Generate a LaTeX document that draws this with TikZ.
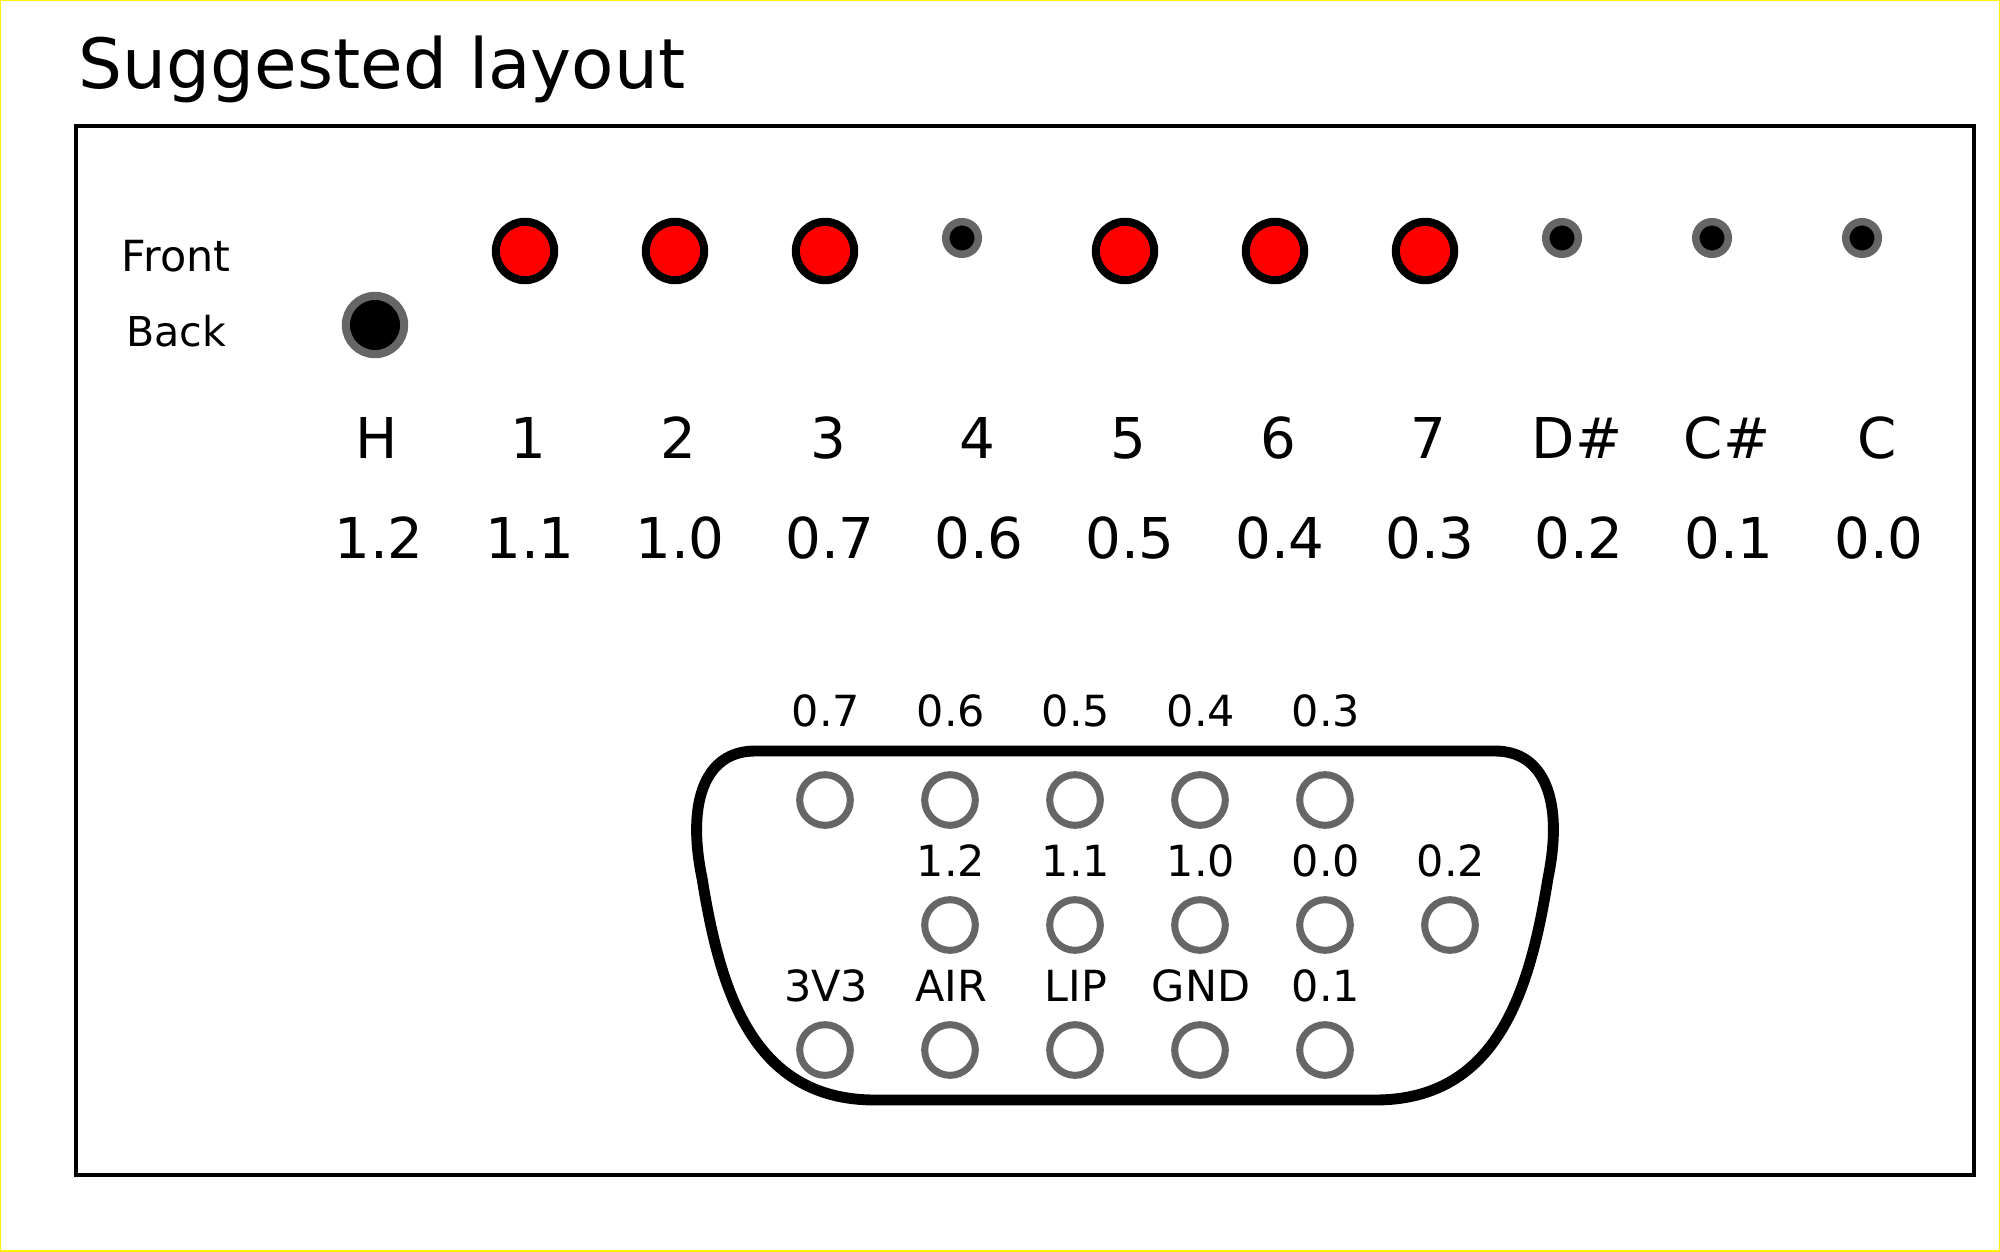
\documentclass[tikz,border=0pt]{standalone}
\usepackage{fontspec}
\setmainfont{DejaVu Sans}
\tikzset{
  ledfront/.style={circle, draw=black, fill=red, line width=2.3pt, minimum size=16.6pt, inner sep=0pt},
  ledback/.style={circle, draw=pingrey, fill=black, line width=2.3pt, minimum size=16.6pt, inner sep=0pt},
  ledsmall/.style={circle, draw=pingrey, fill=black, line width=2.15pt, minimum size=9.25pt, inner sep=0pt},
  pinhole/.style={circle, draw=pingrey, fill=white, line width=2pt, minimum size=14.4pt, inner sep=0pt},
  pinlabel/.style={font=\fontsize{12.2pt}{14pt}\selectfont, anchor=base, inner sep=0pt},
  ledname/.style={font=\fontsize{16pt}{18pt}\selectfont, anchor=base, inner sep=0pt},
}
\definecolor{pingrey}{HTML}{666666}
\begin{document}
\begin{tikzpicture}[x=0.01cm, y=-0.01cm]
    \useasboundingbox (0,0) rectangle (2000,1251);
    \draw[yellow, line width=0.6pt] (0,0) rectangle (2000,1251);
    \node[anchor=base west, inner sep=0pt, font=\fontsize{19.7pt}{24pt}\selectfont] (title) at (78,88) {Suggested layout};
    \draw[black, line width=1pt] (76,126) rectangle (1974,1175);
    \node[pinlabel] (front) at (176,271) {Front};
    \node[pinlabel, font=\fontsize{11.7pt}{14pt}\selectfont] (back) at (176,346) {Back};
    % leds
    \node[ledback] (ledH) at (375,325) {};
    \foreach \x/\n in {525/1, 675/2, 825/3, 1125/5, 1275/6, 1425/7}
        \node[ledfront] (led\n) at (\x,251) {};
    \foreach \x/\n in {962/4, 1562/Ds, 1712/Cs, 1862/C}
        \node[ledsmall] (led\n) at (\x,238) {};
    % names and bits
    \foreach \x/\n/\b in {377/H/1.2, 528/1/1.1, 678/2/1.0, 828/3/0.7, 977/4/0.6, 1128/5/0.5, 1278/6/0.4, 1428/7/0.3, 1577/D\#/0.2, 1727/C\#/0.1, 1877/C/0.0} {
        \node[ledname] (name\x) at (\x,458) {\n};
        \node[ledname] (bit\x) at (\x+2,558) {\b};
    }
    % connector
    \draw[black, line width=3.1pt]
    (755,751) -- (1495,751)
    .. controls (1544,751) and (1564,800) .. (1548,878)
    .. controls (1530,990) and (1498,1100) .. (1375,1100)
    -- (875,1100)
    .. controls (752,1100) and (720,990) .. (702,878)
    .. controls (686,800) and (706,751) .. (755,751) -- cycle;
    \foreach \x/\t in {826/0.7, 951/0.6, 1076/0.5, 1201/0.4, 1326/0.3} {
        \node[pinlabel] (toptext\x) at (\x,726) {\t};
    }
    \foreach \x/\t in {951/1.2, 1076/1.1, 1201/1.0, 1326/0.0, 1451/0.2} {
        \node[pinlabel] (midtext\x) at (\x,876) {\t};
    }
    \foreach \x/\t in {826/3V3, 951/AIR, 1076/LIP, 1201/GND, 1326/0.1} {
        \node[pinlabel] (lowtext\x) at (\x,1001) {\t};
    }
    \foreach \x in {825, 950, 1075, 1200, 1325}
        \node[pinhole] (top\x) at (\x,800) {};
    \foreach \x in {950, 1075, 1200, 1325, 1450}
        \node[pinhole] (mid\x) at (\x,925) {};
    \foreach \x in {825, 950, 1075, 1200, 1325}
        \node[pinhole] (low\x) at (\x,1050) {};
\end{tikzpicture}
\end{document}
